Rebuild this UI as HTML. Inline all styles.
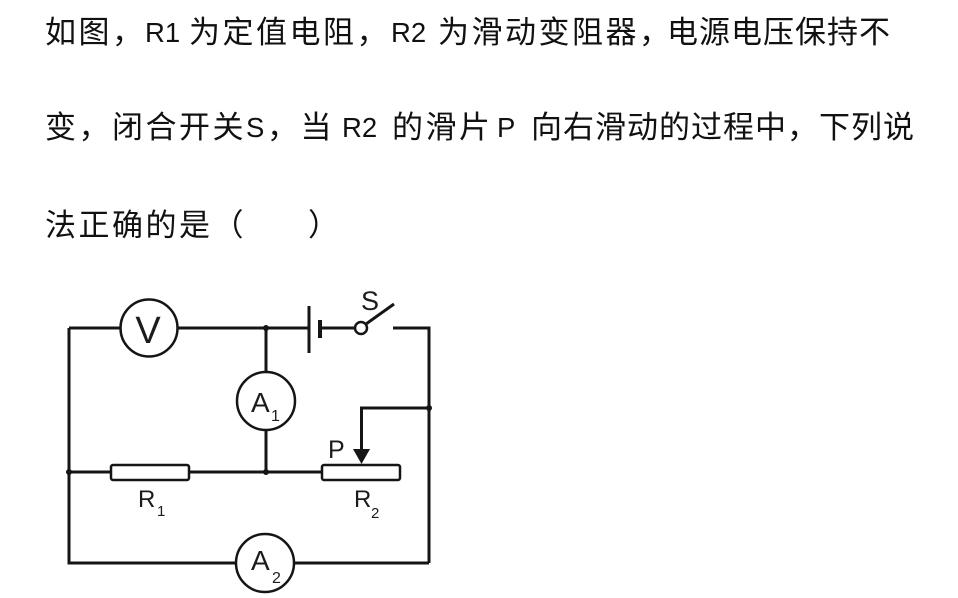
<!DOCTYPE html>
<html>
<head>
<meta charset="utf-8">
<style>
  html, body { margin:0; padding:0; background:#fff; }
  body { width:958px; height:598px; position:relative; overflow:hidden; }
  .t { position:absolute; white-space:nowrap; font-family:"Liberation Sans","Noto Sans CJK SC",sans-serif;
       font-size:31px; line-height:40px; height:40px; color:#111; letter-spacing:2.5px; }
  .l { letter-spacing:0; font-size:27.5px; }
  .n { letter-spacing:1px; }
  svg { position:absolute; left:0; top:0; }
</style>
</head>
<body>
<!-- line 1 -->
<div class="t" style="left:45px;top:13px;">如图，</div>
<div class="t l" style="left:145px;top:13px;">R1</div>
<div class="t" style="left:189px;top:13px;">为定值电阻，</div>
<div class="t l" style="left:391px;top:13px;">R2</div>
<div class="t" style="left:438px;top:13px;">为滑动变阻器，</div>
<div class="t n" style="left:667px;top:13px;">电源电压保持不</div>
<!-- line 2 -->
<div class="t" style="left:45px;top:108px;">变，闭合开关</div>
<div class="t l" style="left:246px;top:108px;">S</div>
<div class="t" style="left:267px;top:108px;">，当</div>
<div class="t l" style="left:342px;top:108px;">R2</div>
<div class="t" style="left:392px;top:108px;">的滑片</div>
<div class="t l" style="left:497px;top:108px;">P</div>
<div class="t n" style="left:531px;top:108px;">向右滑动的过程中，下列说</div>
<!-- line 3 -->
<div class="t" style="left:45px;top:206px;">法正确的是（</div>
<div class="t" style="left:308px;top:206px;">）</div>

<svg width="958" height="598" viewBox="0 0 958 598" xmlns="http://www.w3.org/2000/svg">
  <g stroke="#151515" stroke-width="3" fill="none" stroke-linecap="butt">
    <!-- top wire -->
    <line x1="69" y1="328" x2="120.5" y2="328"/>
    <line x1="177.5" y1="328" x2="309" y2="328"/>
    <line x1="320" y1="328" x2="355" y2="328"/>
    <!-- battery plates -->
    <line x1="309" y1="306" x2="309" y2="353"/>
    <line x1="320" y1="320" x2="320" y2="338" stroke-width="4"/>
    <!-- switch -->
    <line x1="366" y1="324" x2="394" y2="304"/>
    <polyline points="393,328 429,328 429,563"/>
    <!-- left wire & bottom -->
    <polyline points="69,328 69,563 236,563"/>
    <line x1="294" y1="563" x2="429" y2="563"/>
    <!-- middle -->
    <line x1="69" y1="472" x2="111" y2="472"/>
    <line x1="189" y1="472" x2="322" y2="472"/>
    <!-- A1 branch -->
    <line x1="266" y1="328" x2="266" y2="372"/>
    <line x1="266" y1="430" x2="266" y2="472"/>
    <!-- slider -->
    <polyline points="429,408 361.5,408 361.5,452"/>
  </g>
  <polygon points="353,449 370,449 361.5,464" fill="#151515"/>
  <!-- components -->
  <g stroke="#151515" stroke-width="2.5" fill="#fff">
    <circle cx="361" cy="328" r="6"/>
    <circle cx="149" cy="328" r="28.5"/>
    <circle cx="266" cy="401" r="29"/>
    <circle cx="265" cy="563" r="29"/>
    <rect x="111" y="465" width="78" height="15" rx="2"/>
    <rect x="322" y="465" width="78" height="15" rx="2"/>
  </g>
  <g fill="#151515">
    <circle cx="266" cy="328" r="3"/>
    <circle cx="69" cy="472" r="3"/>
    <circle cx="266" cy="472" r="3"/>
    <circle cx="429" cy="408" r="3"/>
  </g>
  <g font-family="Liberation Sans, sans-serif" fill="#1c1c1c">
    <text x="148" y="343" font-size="38" text-anchor="middle">V</text>
    <text x="251" y="412" font-size="28">A</text>
    <text x="271" y="421" font-size="16">1</text>
    <text x="251" y="570" font-size="28">A</text>
    <text x="272" y="583" font-size="16">2</text>
    <text x="361" y="310" font-size="27">S</text>
    <text x="328" y="458" font-size="25">P</text>
    <text x="138" y="507" font-size="24">R</text>
    <text x="157" y="516" font-size="15">1</text>
    <text x="354" y="507" font-size="24">R</text>
    <text x="371" y="518" font-size="15">2</text>
  </g>
</svg>
</body>
</html>
